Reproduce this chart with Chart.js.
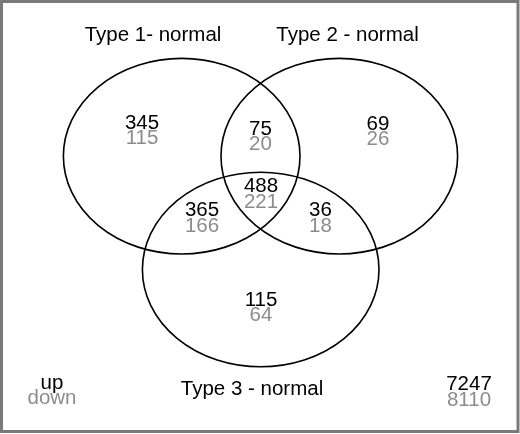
<!DOCTYPE html>
<html>
<head>
<meta charset="utf-8">
<script src="https://cdn.jsdelivr.net/npm/chart.js@4.4.1/dist/chart.umd.min.js"></script>
<style>
  html, body { margin: 0; padding: 0; background: #fff; }
  #wrap { width: 520px; height: 434px; }
</style>
</head>
<body>
<div id="wrap"><canvas id="venn" width="520" height="434"></canvas></div>
<script>
// data
const setNames = ["Type 1- normal", "Type 2 - normal", "Type 3 - normal"];
const regionNames = ["1", "1&2", "2", "1&2&3", "1&3", "2&3", "3"];
const upCounts = [345, 75, 69, 488, 365, 36, 115];
const downCounts = [115, 20, 26, 221, 166, 18, 64];
const seriesNames = ["up", "down"];
const outsideCounts = [7247, 8110];

// layout, in the 520 x 434 coordinate space of the axes
const regionX = [142, 260.5, 378, 261, 202, 320.5, 261];
const regionY = [128.5, 134.5, 129.5, 192, 216, 216, 305.5];
const ellipseCx = [181.7, 339.3, 260.7];
const ellipseCy = [156.2, 156.2, 269.5];
const ellipseRx = [118.3, 118.3, 118.3];
const ellipseRy = [97.8, 97.8, 97.3];
const titleX = [153, 347.5, 252];
const titleY = [41, 41, 394.5];

const UP_COLOR = "#000000";
const DOWN_COLOR = "#8c8c8c";
const FONT = "20.5px 'Liberation Sans', Arial, sans-serif";
const LINE_GAP = 15.5;

function drawText(ctx, text, x, y, color) {
  ctx.fillStyle = color;
  ctx.fillText(text, x, y);
}

const vennPlugin = {
  id: "venn",
  afterDatasetsDraw(chart) {
    const ctx = chart.ctx;
    const xs = chart.scales.x;
    const ys = chart.scales.y;

    ctx.save();
    // ellipses
    ctx.strokeStyle = "#000";
    ctx.lineWidth = 1.6;
    for (let i = 0; i < setNames.length; i++) {
      const cx = xs.getPixelForValue(ellipseCx[i]);
      const cy = ys.getPixelForValue(ellipseCy[i]);
      const rx = Math.abs(xs.getPixelForValue(ellipseCx[i] + ellipseRx[i]) - cx);
      const ry = Math.abs(ys.getPixelForValue(ellipseCy[i] + ellipseRy[i]) - cy);
      ctx.beginPath();
      ctx.ellipse(cx, cy, rx, ry, 0, 0, Math.PI * 2);
      ctx.stroke();
    }

    ctx.font = FONT;
    ctx.textAlign = "center";
    ctx.textBaseline = "alphabetic";

    // set titles
    for (let i = 0; i < setNames.length; i++) {
      drawText(ctx, setNames[i], xs.getPixelForValue(titleX[i]), ys.getPixelForValue(titleY[i]), UP_COLOR);
    }

    // region counts, anchored on the dataset points
    const meta = chart.getDatasetMeta(0);
    meta.data.forEach((pt, i) => {
      drawText(ctx, String(downCounts[i]), pt.x, pt.y + LINE_GAP, DOWN_COLOR);
      drawText(ctx, String(upCounts[i]), pt.x, pt.y, UP_COLOR);
    });

    // legend and outside counts
    drawText(ctx, seriesNames[1], xs.getPixelForValue(52), ys.getPixelForValue(404), DOWN_COLOR);
    drawText(ctx, seriesNames[0], xs.getPixelForValue(52), ys.getPixelForValue(388.5), UP_COLOR);
    drawText(ctx, String(outsideCounts[1]), xs.getPixelForValue(469), ys.getPixelForValue(405.5), DOWN_COLOR);
    drawText(ctx, String(outsideCounts[0]), xs.getPixelForValue(469), ys.getPixelForValue(390), UP_COLOR);

    // frame
    ctx.strokeStyle = "#7a7a7a";
    ctx.lineWidth = 3;
    ctx.strokeRect(1.5, 1.5, chart.width - 3.5, chart.height - 4);
    ctx.restore();
  }
};

new Chart(document.getElementById("venn"), {
  type: "scatter",
  data: {
    labels: regionNames,
    datasets: [{
      label: "regions",
      data: regionNames.map((r, i) => ({ x: regionX[i], y: regionY[i] })),
      pointRadius: 0,
      pointHoverRadius: 0
    }]
  },
  options: {
    responsive: false,
    animation: false,
    devicePixelRatio: 1,
    layout: { padding: 0 },
    events: [],
    scales: {
      x: { type: "linear", min: 0, max: 520, display: false },
      y: { type: "linear", min: 0, max: 434, reverse: true, display: false }
    },
    plugins: {
      legend: { display: false },
      tooltip: { enabled: false }
    }
  },
  plugins: [vennPlugin]
});
</script>
</body>
</html>
